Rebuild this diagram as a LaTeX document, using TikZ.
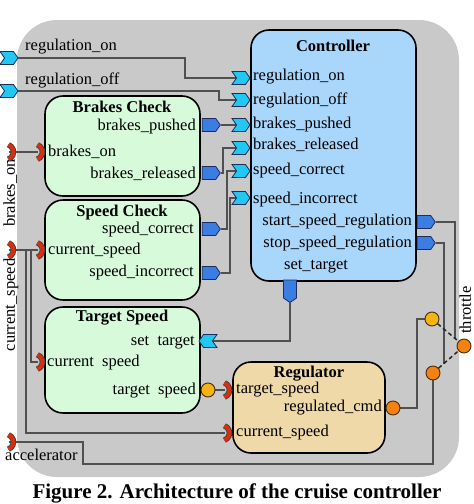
\documentclass[tikz,border=0pt]{standalone}
\usepackage{fontspec}
\setmainfont{Liberation Serif}
\usetikzlibrary{calc,positioning,shapes.symbols}
\pgfdeclarelayer{bg}
\pgfdeclarelayer{wires}
\pgfsetlayers{bg,wires,main}
\definecolor{panelgray}{HTML}{C9C9C9}
\definecolor{blockgreen}{HTML}{D7FADB}
\definecolor{ctrlblue}{HTML}{A9D6FB}
\definecolor{regtan}{HTML}{EFD9A9}
\definecolor{portcyan}{HTML}{22C8F2}
\definecolor{portblue}{HTML}{3C7DE3}
\definecolor{portedge}{HTML}{1A2F5E}
\definecolor{sockred}{HTML}{D8300E}
\definecolor{dotorange}{HTML}{F5820F}
\definecolor{dotyellow}{HTML}{F6B411}
\definecolor{wiregray}{HTML}{505050}
\tikzset{
    block/.style={draw=black, line width=1.6pt, rounded corners=18pt, fill=blockgreen, inner sep=0pt},
    ttl/.style={font=\fontsize{16.5}{18}\selectfont\bfseries, inner sep=0pt, text height=11pt, text depth=3pt},
    lbl/.style={inner sep=0pt, text height=10pt, text depth=2.5pt},
    wire/.style={draw=wiregray, line width=1.3pt},
    inport/.style={signal, signal to=east, signal from=west, signal pointer angle=110,
        draw=portedge, fill=portcyan, line width=0.8pt, minimum width=18pt, minimum height=13pt, inner sep=0pt},
    outport/.style={signal, signal to=east, signal pointer angle=110,
        draw=portedge, fill=portblue, line width=0.8pt, minimum width=18pt, minimum height=13pt, inner sep=0pt},
    dot/.style={circle, draw=black!65!brown, fill=dotorange, line width=0.9pt, minimum size=14pt, inner sep=0pt},
    sock/.style={rectangle, inner sep=0pt, minimum width=20pt, minimum height=22pt,
        path picture={
            \draw[line width=5.6pt, draw=black!75] (path picture bounding box.center) ++(-0.6,7.2) arc[start angle=70, end angle=-70, radius=7.7];
            \draw[line width=3.8pt, draw=sockred] (path picture bounding box.center) ++(-0.6,7.2) arc[start angle=70, end angle=-70, radius=7.7];
        }}
}
\begin{document}
\begin{tikzpicture}[x=1pt, y=-1pt, font=\fontsize{16.5}{18}\selectfont]
\useasboundingbox (0,0) rectangle (474,504);

\begin{pgfonlayer}{bg}
    \fill[panelgray, rounded corners=40pt] (17,20) rectangle (459,477);
\end{pgfonlayer}

% blocks
\node[block, fill=ctrlblue, minimum width=165pt, minimum height=251pt] (ctrl) at (333.5,155.5) {};
\node[block, minimum width=155pt, minimum height=100pt] (brk) at (122.5,146) {};
\node[block, minimum width=155pt, minimum height=100pt] (spd) at (122.5,250) {};
\node[block, minimum width=155pt, minimum height=106pt] (tgt) at (122.5,360) {};
\node[block, fill=regtan, minimum width=152pt, minimum height=91pt] (reg) at (309,407.5) {};

\node[ttl] (ctrlname) at (333,47) {Controller};
\node[ttl] (brkname) at (122,108) {Brakes Check};
\node[ttl] (spdname) at (122,212) {Speed Check};
\node[ttl] (tgtname) at (122,317) {Target Speed};
\node[ttl] (regname) at (309,373) {Regulator};

% controller labels
\node[lbl, anchor=west] (lregon) at (253,77) {regulation\_on};
\node[lbl, anchor=west] (lregoff) at (253,101) {regulation\_off};
\node[lbl, anchor=west] (lbpush) at (253,125) {brakes\_pushed};
\node[lbl, anchor=west] (lbrel) at (253,146) {brakes\_released};
\node[lbl, anchor=west] (lscor) at (253,171) {speed\_correct};
\node[lbl, anchor=west] (lsinc) at (253,200) {speed\_incorrect};
\node[lbl, anchor=east] (lstart) at (412,222) {start\_speed\_regulation};
\node[lbl, anchor=east] (lstop) at (412,244) {stop\_speed\_regulation};
\node[lbl] (lset) at (316,266) {set\_target};

% block labels
\node[lbl, anchor=east] at (196,127) {brakes\_pushed};
\node[lbl, anchor=west] at (48,153) {brakes\_on};
\node[lbl, anchor=east] at (196,175) {brakes\_released};
\node[lbl, anchor=east] at (194,230) {speed\_correct};
\node[lbl, anchor=west] at (48,251) {current\_speed};
\node[lbl, anchor=east] at (194,273) {speed\_incorrect};
\node[lbl, anchor=east] at (195,342) {set\enspace target};
\node[lbl, anchor=west] at (47,363) {current\enspace speed};
\node[lbl, anchor=east] at (196,391) {target\enspace speed};
\node[lbl, anchor=west] at (236,390) {target\_speed};
\node[lbl, anchor=east] at (382,408) {regulated\_cmd};
\node[lbl, anchor=west] at (236,433) {current\_speed};

% outside labels
\node[lbl, anchor=west] (tregon) at (25,47) {regulation\_on};
\node[lbl, anchor=west] (tregoff) at (25,81) {regulation\_off};
\node[lbl, rotate=90] (tbon) at (11,193) {brakes\_on};
\node[lbl, rotate=90] (tcs) at (11,305) {current\_speed};
\node[lbl, anchor=west] (tacc) at (5,457) {accelerator};
\node[lbl, rotate=90] (tthr) at (467,310) {throttle};

% ports
\node[inport] (regon) at (9,58) {};
\node[inport] (regoff) at (9,91) {};
\node[inport] (cregon) at (241,78) {};
\node[inport] (cregoff) at (241,100) {};
\node[inport] (cbpush) at (241,125) {};
\node[inport] (cbrel) at (241,148) {};
\node[inport] (cscor) at (241,171) {};
\node[inport] (csinc) at (241,198) {};
\node[outport] (bpush) at (209,125) {};
\node[outport] (brel) at (209,173) {};
\node[outport] (scor) at (209,229) {};
\node[outport] (sinc) at (209,273) {};
\node[outport] (cstart) at (424,222) {};
\node[outport] (cstop) at (424,243) {};
\node[outport, signal to=south, minimum width=13pt, minimum height=18pt] (cset) at (290,289) {};
\node[inport, signal to=west, signal from=east] (tset) at (208,341) {};

\node[sock] (extbon) at (9,152) {};
\node[sock] (extcs) at (9,250) {};
\node[sock] (extacc) at (9,442) {};
\node[sock] (bon) at (38,152) {};
\node[sock] (scs) at (38,250) {};
\node[sock] (tcsin) at (38,362) {};
\node[sock] (rts) at (225,390) {};
\node[sock] (rcs) at (225,433) {};

\node[dot, fill=dotyellow] (tout) at (208,390) {};
\node[dot] (regout) at (393,408) {};
\node[dot, fill=dotyellow] (swU) at (432,319) {};
\node[dot] (swL) at (433,373) {};
\node[dot] (swR) at (464,346) {};
\coordinate (swA) at ($(swU)!0.72!(swR)$);
\coordinate (swB) at ($(swL)!0.35!(swR)$);

\begin{pgfonlayer}{wires}
    \draw[wire] (regon.east) -- (185,0 |- regon.east) |- (cregon.west);
    \draw[wire] (regoff.east) -- (219,0 |- regoff.east) |- (cregoff.west);
    \draw[wire] (bpush.east) -- (cbpush.west);
    \draw[wire] (brel.east) -- (223,0 |- brel.east) |- (cbrel.west);
    \draw[wire] (scor.east) -- (227,0 |- scor.east) |- (cscor.west);
    \draw[wire] (sinc.east) -- (230,0 |- sinc.east) |- (csinc.west);
    \draw[wire] (extbon.center) -- (bon.center);
    \draw[wire] (extcs.center) -- (scs.center);
    \draw[wire] (31,0 |- extcs.center) |- (tcsin.center);
    \draw[wire] (26,0 |- extcs.center) |- (rcs.center);
    \draw[wire] (cset.south) |- (tset.east);
    \draw[wire] (tout.east) -- (rts.center);
    \draw[wire] (regout.east) -- (417,0 |- regout.east) |- (swU.west);
    \draw[wire] (extacc.center) -- (83,0 |- extacc.center) -- (83,464) -| (swL.south);
    \draw[wire] (cstart.east) -| (swA);
    \draw[wire] (cstop.east) -| (swB);
    \draw[wire, draw=black!85, line width=1.5pt, dash pattern=on 4pt off 3pt] (swU) -- (swR);
    \draw[wire, draw=black!85, line width=1.5pt, dash pattern=on 4pt off 3pt] (swL) -- (swR);
\end{pgfonlayer}

\node[font=\fontsize{21}{24}\selectfont\bfseries, inner sep=0pt] (cap) at (237,493) {Figure 2. Architecture of the cruise controller};
\end{tikzpicture}
\end{document}
